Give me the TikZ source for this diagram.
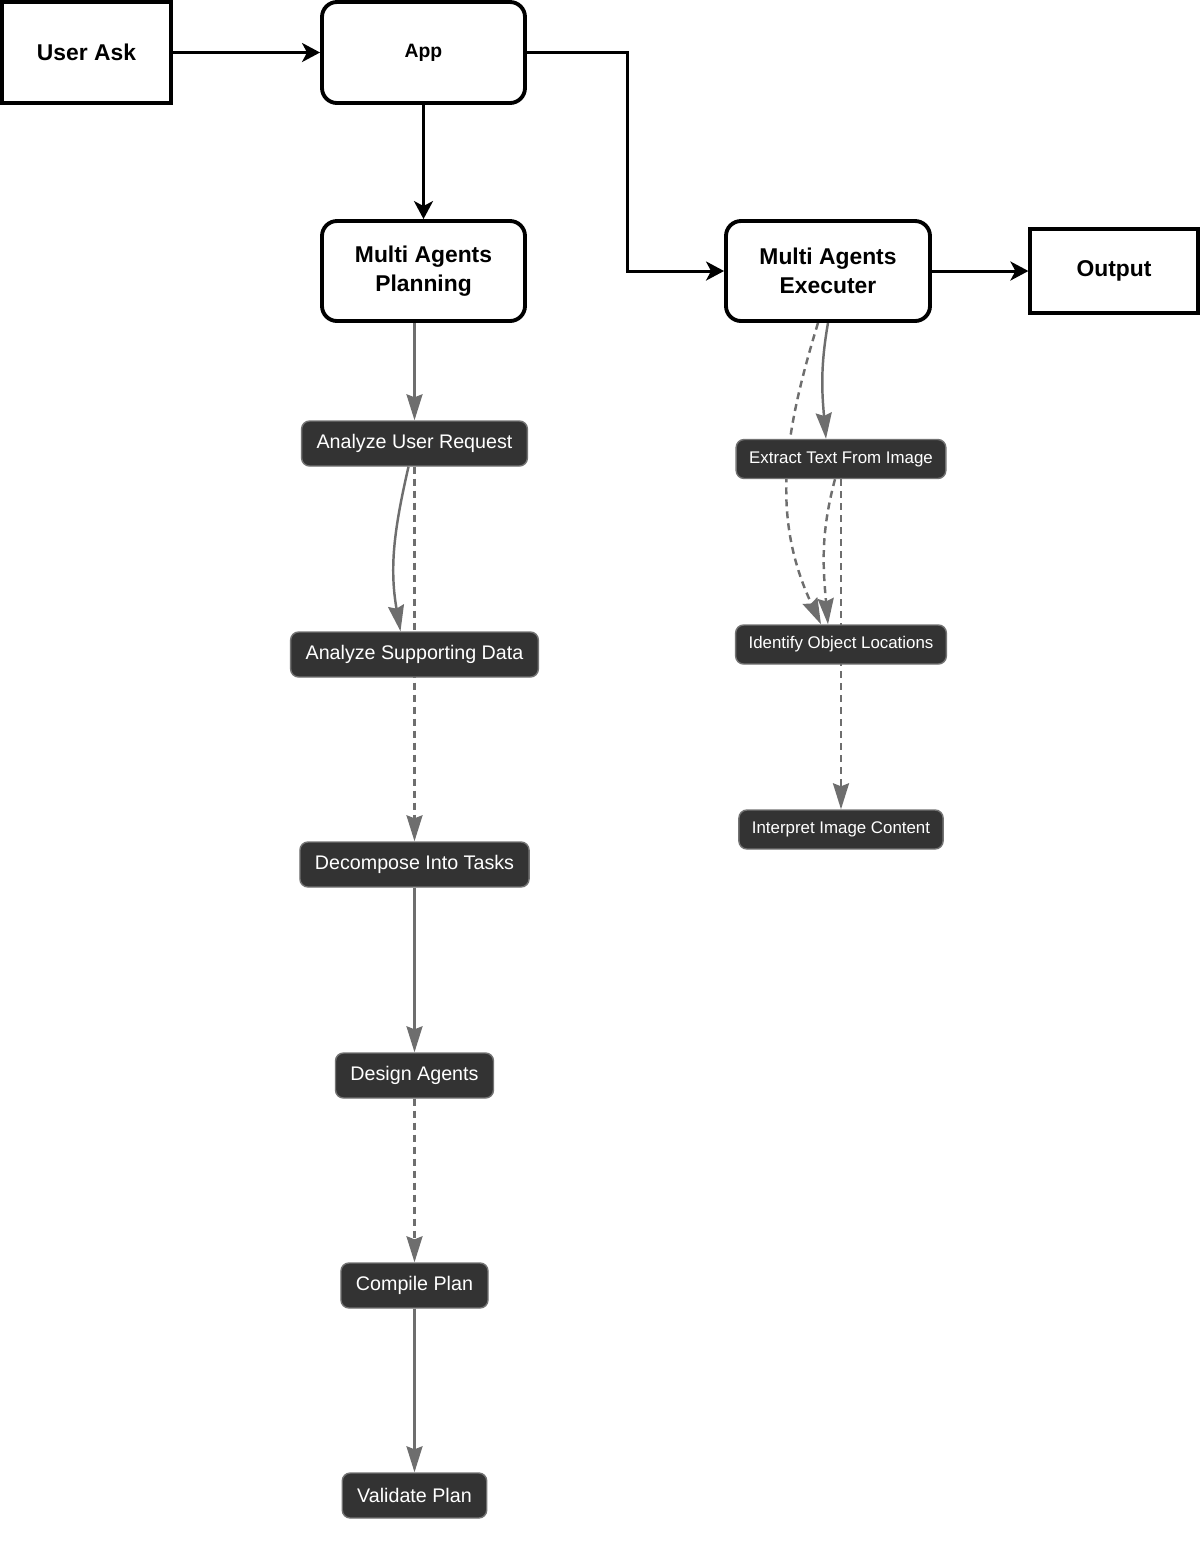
\documentclass[tikz,border=0pt]{standalone}
\usepackage{fontspec}
\setmainfont{Liberation Sans}
\usetikzlibrary{arrows.meta,backgrounds}
\definecolor{agentdark}{RGB}{51,51,51}
\definecolor{flowgray}{RGB}{110,110,110}

\begin{document}
\begin{tikzpicture}[
        bigbox/.style={draw=black, line width=0.9pt, fill=white, align=center, inner sep=0pt, font=\fontsize{6.5}{8.2}\selectfont\bfseries},
        roundbox/.style={bigbox, line width=1.1pt, rounded corners=0.15cm},
        plannode/.style={draw=black!55, fill=agentdark, text=white, rounded corners=0.08cm, minimum height=0.45cm, inner xsep=0.15cm, inner ysep=0pt, font=\fontsize{5.6}{6.7}\selectfont},
        execnode/.style={plannode, minimum height=0.39cm, inner xsep=0.13cm, font=\fontsize{4.8}{5.8}\selectfont},
        mainarrow/.style={line width=0.85pt, -{Stealth[length=0.18cm,width=0.19cm,inset=0.05cm]}},
        flowarrow/.style={flowgray, line width=0.7pt, -{Stealth[length=0.26cm,width=0.16cm,inset=0.03cm]}},
        flowdash/.style={flowarrow, dash pattern=on 0.07cm off 0.05cm}
    ]
                \useasboundingbox (0,0) rectangle (12,-15.49);

                % Top row
                \node[bigbox, minimum width=1.69cm, minimum height=1.01cm] (ask) at (0.865,-0.525) {User Ask};
                \node[roundbox, minimum width=2.03cm, minimum height=1.01cm, font=\fontsize{5.5}{6.6}\selectfont\bfseries] (app) at (4.235,-0.525) {App};

                % Planning and executing boxes
                \node[roundbox, minimum width=2.03cm, minimum height=1.0cm] (planning) at (4.235,-2.71) {Multi Agents\\Planning};
                \node[roundbox, minimum width=2.04cm, minimum height=1.0cm] (executer) at (8.28,-2.71) {Multi Agents\\Executer};
                \node[bigbox, minimum width=1.68cm, minimum height=0.84cm] (output) at (11.14,-2.71) {Output};

                % Planning steps
                \node[plannode] (request) at (4.145,-4.435) {Analyze User Request};
                \node[plannode] (support) at (4.145,-6.545) {Analyze Supporting Data};
                \node[plannode] (decompose) at (4.145,-8.645) {Decompose Into Tasks};
                \node[plannode] (design) at (4.145,-10.755) {Design Agents};
                \node[plannode] (compile) at (4.145,-12.855) {Compile Plan};
                \node[plannode] (validate) at (4.145,-14.955) {Validate Plan};

                % Executing steps
                \node[execnode] (extract) at (8.41,-4.59) {Extract Text From Image};
                \node[execnode] (identify) at (8.41,-6.445) {Identify Object Locations};
                \node[execnode] (interpret) at (8.41,-8.295) {Interpret Image Content};

                % Main flow
                \draw[mainarrow] (ask) -- (app);
                \draw[mainarrow] (app) -- (planning);
                \draw[mainarrow] (app.east) -- ++(1.01,0) |- (executer.west);
                \draw[mainarrow] (executer) -- (output);

                \begin{pgfonlayer}{background}
                % Planning links
                \draw[flowarrow] (planning.south -| request) -- (request);
                \draw[flowarrow] ([xshift=-0.06cm]request.south) to[out=-103, in=100] ([xshift=-0.14cm]support.north);
                \draw[flowdash] (request) -- (decompose);
                \draw[flowarrow] (decompose) -- (design);
                \draw[flowdash] (design) -- (compile);
                \draw[flowarrow] (compile) -- (validate);

                % Executing links
                \draw[flowarrow] (executer.south) to[out=-100, in=95] ([xshift=-0.15cm]extract.north);
                \draw[flowdash] ([xshift=-0.1cm]executer.south) to[out=-107, in=115] ([xshift=-0.2cm]identify.north);
                \draw[flowdash] ([xshift=-0.06cm]extract.south) to[out=-105, in=95] ([xshift=-0.13cm]identify.north);
                \draw[flowdash] (extract) -- (interpret);
                \end{pgfonlayer}
            \end{tikzpicture}
\end{document}
